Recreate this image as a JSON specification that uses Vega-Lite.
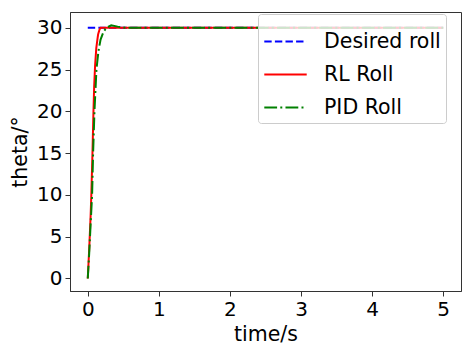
{
  "$schema": "https://vega.github.io/schema/vega-lite/v6.json",
  "width": 391,
  "height": 279,
  "autosize": {"type": "none"},
  "padding": {"left": 70, "top": 12, "right": 13, "bottom": 64},
  "background": "white",
  "config": {
    "font": "DejaVu Sans",
    "view": {"stroke": "#333", "strokeWidth": 1}
  },
  "data": {
    "values": [
      {"t": 0, "v": 30, "s": "Desired roll"},
      {"t": 5, "v": 30, "s": "Desired roll"},
      {"t": 0, "v": 0, "s": "RL Roll"},
      {"t": 0.02, "v": 3.5, "s": "RL Roll"},
      {"t": 0.04, "v": 7.5, "s": "RL Roll"},
      {"t": 0.05, "v": 10, "s": "RL Roll"},
      {"t": 0.066, "v": 15, "s": "RL Roll"},
      {"t": 0.08, "v": 20, "s": "RL Roll"},
      {"t": 0.09, "v": 23, "s": "RL Roll"},
      {"t": 0.103, "v": 25.5, "s": "RL Roll"},
      {"t": 0.12, "v": 27.6, "s": "RL Roll"},
      {"t": 0.145, "v": 29.2, "s": "RL Roll"},
      {"t": 0.165, "v": 29.8, "s": "RL Roll"},
      {"t": 0.18, "v": 30, "s": "RL Roll"},
      {"t": 0.3, "v": 30, "s": "RL Roll"},
      {"t": 1, "v": 30, "s": "RL Roll"},
      {"t": 2, "v": 30, "s": "RL Roll"},
      {"t": 3, "v": 30, "s": "RL Roll"},
      {"t": 4, "v": 30, "s": "RL Roll"},
      {"t": 5, "v": 30, "s": "RL Roll"},
      {"t": 0, "v": 0, "s": "PID Roll"},
      {"t": 0.02, "v": 3, "s": "PID Roll"},
      {"t": 0.04, "v": 6.5, "s": "PID Roll"},
      {"t": 0.061, "v": 10, "s": "PID Roll"},
      {"t": 0.075, "v": 15, "s": "PID Roll"},
      {"t": 0.094, "v": 20, "s": "PID Roll"},
      {"t": 0.122, "v": 25, "s": "PID Roll"},
      {"t": 0.15, "v": 27.2, "s": "PID Roll"},
      {"t": 0.18, "v": 28.6, "s": "PID Roll"},
      {"t": 0.22, "v": 29.5, "s": "PID Roll"},
      {"t": 0.26, "v": 30, "s": "PID Roll"},
      {"t": 0.33, "v": 30.3, "s": "PID Roll"},
      {"t": 0.42, "v": 30.15, "s": "PID Roll"},
      {"t": 0.55, "v": 30, "s": "PID Roll"},
      {"t": 1, "v": 30, "s": "PID Roll"},
      {"t": 2, "v": 30, "s": "PID Roll"},
      {"t": 3, "v": 30, "s": "PID Roll"},
      {"t": 4, "v": 30, "s": "PID Roll"},
      {"t": 5, "v": 30, "s": "PID Roll"}
    ]
  },
  "mark": {"type": "line", "strokeWidth": 2, "clip": true},
  "encoding": {
    "x": {
      "field": "t", "type": "quantitative",
      "scale": {"domain": [-0.25, 5.25], "nice": false, "zero": false},
      "axis": {
        "title": "time/s", "values": [0, 1, 2, 3, 4, 5], "grid": false,
        "labelFontSize": 20, "titleFontSize": 20.5, "titleFontWeight": "normal",
        "labelColor": "#000", "titleColor": "#000", "domainColor": "#333",
        "tickColor": "#333", "tickSize": 5, "labelPadding": 3, "titlePadding": 5
      }
    },
    "y": {
      "field": "v", "type": "quantitative",
      "scale": {"domain": [-1.5, 31.9], "nice": false, "zero": false},
      "axis": {
        "title": "theta/°", "values": [0, 5, 10, 15, 20, 25, 30], "grid": false,
        "labelFontSize": 20, "titleFontSize": 20.5, "titleFontWeight": "normal",
        "labelColor": "#000", "titleColor": "#000", "domainColor": "#333",
        "tickColor": "#333", "tickSize": 5, "labelPadding": 3, "titlePadding": 6
      }
    },
    "color": {
      "field": "s", "type": "nominal",
      "scale": {"domain": ["Desired roll", "RL Roll", "PID Roll"], "range": ["#0000ff", "#ff0000", "#008000"]},
      "legend": {
        "title": null, "orient": "none", "legendX": 188, "legendY": 2,
        "labelFontSize": 20.5, "labelColor": "#000", "symbolType": "stroke",
        "symbolSize": 1800, "symbolStrokeWidth": 2, "rowPadding": -11,
        "labelOffset": 16, "padding": 5, "fillColor": "rgba(255,255,255,0.8)",
        "strokeColor": "#ccc", "cornerRadius": 3
      }
    },
    "strokeDash": {
      "field": "s", "type": "nominal",
      "scale": {"domain": ["Desired roll", "RL Roll", "PID Roll"], "range": [[7.4, 3.2], [1, 0], [12.8, 3.2, 2, 3.2]]},
      "legend": null
    },
    "order": {"field": "t", "type": "quantitative"}
  }
}
